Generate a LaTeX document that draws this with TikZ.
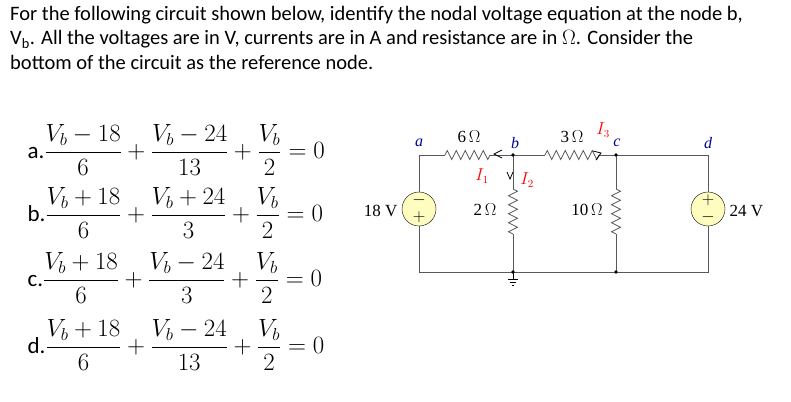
\documentclass[tikz,border=0pt]{standalone}
\usepackage{amsmath}
\usepackage{fontspec}
\setmainfont{Carlito}
\newfontfamily\cirfont{Liberation Serif}
\usetikzlibrary{decorations.pathmorphing}
\begin{document}
\begin{tikzpicture}[x=1pt,y=-1pt,
  res/.style={decorate,decoration={zigzag,segment length=9pt,amplitude=4.5pt}},
  src/.style={circle,draw,fill=yellow!25,minimum size=34pt,inner sep=0pt},
  lab/.style={font=\cirfont\fontsize{16}{16}\selectfont\itshape\color{blue!60!black}},
  val/.style={font=\cirfont\fontsize{17}{17}\selectfont},
  red/.style={font=\fontsize{16}{16}\selectfont\itshape\color{red}},
  opt/.style={anchor=west,font=\fontsize{23}{26}\selectfont}]
\useasboundingbox (0,0) rectangle (791,401);
\node[anchor=north west,align=left,font=\fontsize{20.5}{24.5}\selectfont,inner sep=0pt] (q) at (10,6)
 {For the following circuit shown below, identify the nodal voltage equation at the node b,\\
  V\textsubscript{b}. All the voltages are in V, currents are in A and resistance are in $\Omega$. Consider the\\
  bottom of the circuit as the reference node.};
\node[opt] (oa) at (24,150) {a.$\dfrac{V_b-18}{6}+\dfrac{V_b-24}{13}+\dfrac{V_b}{2}=0$};
\node[opt] (ob) at (24,213) {b.$\dfrac{V_b+18}{6}+\dfrac{V_b+24}{3}+\dfrac{V_b}{2}=0$};
\node[opt] (oc) at (24,278) {c.$\dfrac{V_b+18}{6}+\dfrac{V_b-24}{3}+\dfrac{V_b}{2}=0$};
\node[opt] (od) at (24,345) {d.$\dfrac{V_b+18}{6}+\dfrac{V_b-24}{13}+\dfrac{V_b}{2}=0$};
% circuit
\coordinate (a) at (419,155); \coordinate (b) at (513,155);
\coordinate (c) at (616,155); \coordinate (d) at (708,155);
\coordinate (ga) at (419,272); \coordinate (gb) at (513,272);
\coordinate (gc) at (616,272); \coordinate (gd) at (708,272);
\node[src] (s1) at (419,209) {};
\node[src] (s2) at (708,209) {};
\node[font=\cirfont\fontsize{19}{19}\selectfont] at (419,200) {$-$}; \node[font=\cirfont\fontsize{19}{19}\selectfont] at (419,217) {$+$};
\node[font=\cirfont\fontsize{19}{19}\selectfont] at (708,200) {$+$}; \node[font=\cirfont\fontsize{19}{19}\selectfont] at (708,217) {$-$};
\draw[thick,gray!70!black] (s1.north) -- (a) -- (445,155);
\draw[thick,gray!70!black,res] (445,155) -- (490,155);
\draw[thick,gray!70!black] (490,155) -- (545,155);
\draw[thick,gray!70!black,res] (545,155) -- (599,155);
\draw[thick,gray!70!black] (599,155) -- (d) -- (s2.north);
\draw[thick,gray!70!black] (s1.south) -- (ga) -- (gd) -- (s2.south);
\draw[thick,gray!70!black] (b) -- (513,189);
\draw[thick,gray!70!black,res] (513,189) -- (513,234);
\draw[thick,gray!70!black] (513,234) -- (gb);
\draw[thick,gray!70!black] (c) -- (616,189);
\draw[thick,gray!70!black,res] (616,189) -- (616,234);
\draw[thick,gray!70!black] (616,234) -- (gc);
\foreach \p in {b,c,gb,gc} \fill (\p) circle (1.8pt);
\draw (gb) -- (513,279);
\draw (508,279) -- (518,279) (510,282) -- (516,282) (512,285) -- (514,285);
\node[lab] (la) at (419,143) {a};
\node[lab] (lb) at (515,143) {b};
\node[lab] (lc) at (617,143) {c};
\node[lab] (ld) at (708,143) {d};
\node[val] (r6) at (469,137) {6$\,\Omega$};
\node[val] (r3) at (572,137) {3$\,\Omega$};
\node[val] (r2) at (485,210) {2$\,\Omega$};
\node[val] (r10) at (587,210) {10$\,\Omega$};
\node[val,anchor=east] (v18) at (401,211) {18 V};
\node[val,anchor=west] (v24) at (726,211) {24 V};
\draw[red,thick] (502,150) -- (494,154) -- (502,158);
\draw[red,thick] (593,151) -- (601,153) -- (596,160);
\draw[red,thick] (507,172) -- (510,179) -- (513,172);
\node[red] at (482,176) {$I_1$};
\node[red] at (527,180) {$I_2$};
\node[red] at (603,130) {$I_3$};
\end{tikzpicture}
\end{document}
